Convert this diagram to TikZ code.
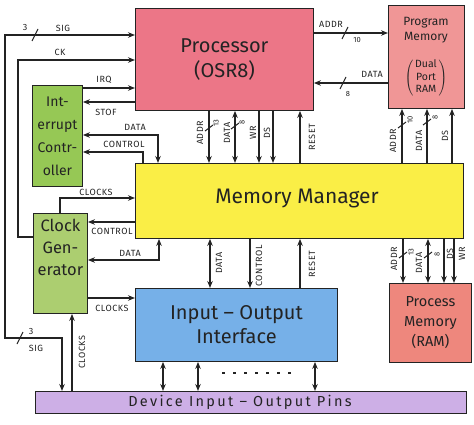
\documentclass[tikz,border=0pt]{standalone}
\usepackage{fontspec}
\setmainfont{Fira Sans}
\newfontfamily\lblf[LetterSpace=6]{Fira Sans}
\newfontfamily\devf[LetterSpace=16]{Fira Sans}
\usetikzlibrary{arrows.meta,calc}
\definecolor{procC}{RGB}{236,118,135}
\definecolor{pmC}{RGB}{240,150,150}
\definecolor{icC}{RGB}{150,200,85}
\definecolor{mmC}{RGB}{250,238,70}
\definecolor{cgC}{RGB}{172,206,112}
\definecolor{ioC}{RGB}{118,176,232}
\definecolor{prmC}{RGB}{238,135,125}
\definecolor{devC}{RGB}{205,175,230}
\definecolor{ink}{RGB}{35,35,35}
\begin{document}
\begin{tikzpicture}[x=1pt,y=-1pt,
  >={Stealth[length=7pt,width=5.5pt]},
  box/.style={draw=ink, line width=0.9pt, anchor=north west, inner sep=0pt, align=center, text=ink},
  wire/.style={line width=1.1pt, draw=ink},
  tick/.style={line width=1pt, draw=ink},
  lbl/.style={font=\lblf\fontsize{9}{10}\selectfont, inner sep=0.5pt, text=ink},
  rl/.style={lbl, rotate=90},
  sm/.style={font=\fontsize{7.5}{8}\selectfont, inner sep=0.5pt, text=ink}]
\useasboundingbox (0,0) rectangle (474,425);
\fill[white] (0,0) rectangle (474,425);

% boxes
\node[box, fill=procC, minimum width=178pt, minimum height=102pt, font=\fontsize{20}{25}\selectfont] (proc) at (135,8) {Processor\\(OSR8)};
\node[box, fill=pmC, minimum width=76pt, minimum height=103pt] (pm) at (388,5) {};
\node[font=\fontsize{12}{15}\selectfont, align=center, text=ink, inner sep=0pt] (pmt) at (426,30) {Program\\Memory};
\node[font=\fontsize{10.5}{12.5}\selectfont, align=center, text=ink, inner sep=0pt] (pmp) at (426,78)
  {$\left(\mbox{\,\begin{tabular}{@{}c@{}}Dual\\Port\\RAM\end{tabular}\,}\right)$};
\node[box, fill=icC, minimum width=50pt, minimum height=101pt, font=\fontsize{14}{23}\selectfont] (ic) at (32,85) {Int-\\errupt\\Contr-\\oller};
\node[box, fill=mmC, minimum width=328pt, minimum height=75pt] (mm) at (135,163) {};
\node[font=\fontsize{21}{24}\selectfont, text=ink] (mmt) at (297,199) {Memory Manager};
\node[box, fill=cgC, minimum width=54pt, minimum height=100pt, font=\fontsize{16.5}{22}\selectfont] (cg) at (33,213) {Clock\\Gen-\\erator\\[10pt]};
\node[box, fill=ioC, minimum width=202pt, minimum height=73pt, font=\fontsize{20}{24}\selectfont] (io) at (135,288) {Input -- Output\\Interface};
\node[box, fill=prmC, minimum width=82pt, minimum height=79pt, font=\fontsize{14.5}{20}\selectfont] (prm) at (389,283) {Process\\Memory\\(RAM)};
\node[box, fill=devC, minimum width=431pt, minimum height=22pt] (dev) at (35,391) {};
\node[font=\devf\fontsize{14.5}{16}\selectfont, text=ink] (devt) at (240,402) {Device Input \textendash\ Output Pins};

% helper coordinates
\coordinate (sigx) at (62,0);   \coordinate (sigy) at (0,338);
\coordinate (sigL) at (5,0);    \coordinate (sigT) at (0,35);
\coordinate (ckx) at (18,0);    \coordinate (cky) at (0,60);  \coordinate (ckb) at (0,237);
\coordinate (irq) at (0,88);    \coordinate (stof) at (0,102);
\coordinate (icd) at (0,135);   \coordinate (icdx) at (158,0);
\coordinate (icc) at (0,152);   \coordinate (iccx) at (143,0);
\coordinate (pa) at (209,0); \coordinate (pd) at (235,0); \coordinate (pw) at (259,0);
\coordinate (ps) at (273,0); \coordinate (pr) at (300,0);
\coordinate (pma) at (0,33); \coordinate (pmd) at (0,83);
\coordinate (qa) at (402,0); \coordinate (qd) at (427,0); \coordinate (qs) at (452,0);
\coordinate (clx) at (60,0); \coordinate (cly) at (0,198);
\coordinate (cgc) at (0,222);
\coordinate (cgd) at (0,260); \coordinate (cgdx) at (159,0);
\coordinate (cgk) at (0,298);
\coordinate (dkx) at (72,0);
\coordinate (md) at (210,0); \coordinate (mc) at (250,0); \coordinate (mr) at (300,0);
\coordinate (ra) at (403,0); \coordinate (rd) at (428,0); \coordinate (rs) at (444,0); \coordinate (rw) at (454,0);
\coordinate (e1) at (163,0); \coordinate (e2) at (198,0); \coordinate (e3) at (315,0);

% wires
\draw[wire,<->] (dev.north -| sigx) -- (sigx |- sigy) -- (sigL |- sigy) -- (sigL |- sigT) -- (proc.west |- sigT);
\draw[wire,->] (cg.west |- ckb) -- (ckx |- ckb) -- (ckx |- cky) -- (proc.west |- cky);
\draw[wire,->] (ic.east |- irq) -- (proc.west |- irq);
\draw[wire,->] (proc.west |- stof) -- (ic.east |- stof);
\draw[wire,<->] (ic.east |- icd) -- (icdx |- icd) -- (mm.north -| icdx);
\draw[wire,<-] (ic.east |- icc) -- (iccx |- icc) -- (mm.north -| iccx);
\draw[wire,->] (proc.south -| pa) -- (mm.north -| pa);
\draw[wire,<->] (proc.south -| pd) -- (mm.north -| pd);
\draw[wire,->] (proc.south -| pw) -- (mm.north -| pw);
\draw[wire,->] (proc.south -| ps) -- (mm.north -| ps);
\draw[wire,<-] (proc.south -| pr) -- (mm.north -| pr);
\draw[wire,->] (proc.east |- pma) -- (pm.west |- pma);
\draw[wire,->] (pm.west |- pmd) -- (proc.east |- pmd);
\draw[wire,<-] (pm.south -| qa) -- (mm.north -| qa);
\draw[wire,<-] (pm.south -| qd) -- (mm.north -| qd);
\draw[wire,<-] (pm.south -| qs) -- (mm.north -| qs);
\draw[wire,->] (cg.north -| clx) -- (clx |- cly) -- (mm.west |- cly);
\draw[wire,->] (mm.west |- cgc) -- (cg.east |- cgc);
\draw[wire,<->] (cg.east |- cgd) -- (cgdx |- cgd) -- (mm.south -| cgdx);
\draw[wire,->] (cg.east |- cgk) -- (io.west |- cgk);
\draw[wire,->] (dev.north -| dkx) -- (cg.south -| dkx);
\draw[wire,<->] (mm.south -| md) -- (io.north -| md);
\draw[wire,->] (mm.south -| mc) -- (io.north -| mc);
\draw[wire,<-] (mm.south -| mr) -- (io.north -| mr);
\draw[wire,->] (mm.south -| ra) -- (prm.north -| ra);
\draw[wire,<->] (mm.south -| rd) -- (prm.north -| rd);
\draw[wire,->] (mm.south -| rs) -- (prm.north -| rs);
\draw[wire,->] (mm.south -| rw) -- (prm.north -| rw);
\draw[wire,<->] (io.south -| e1) -- (dev.north -| e1);
\draw[wire,<->] (io.south -| e2) -- (dev.north -| e2);
\draw[wire,<->] (io.south -| e3) -- (dev.north -| e3);
\draw[line width=1.3pt, draw=ink, dash pattern=on 3pt off 8pt] (222,373) -- (292,373);

% bus width ticks
\draw[tick] (32,41) -- (38,29);
\draw[tick] (17,344) -- (23,332);
\draw[tick] (205,131) -- (213,125);
\draw[tick] (231,129) -- (239,123);
\draw[tick] (342,39) -- (348,27);
\draw[tick] (340,89) -- (346,77);
\draw[tick] (398,128) -- (406,122);
\draw[tick] (423,125) -- (431,119);
\draw[tick] (399,258) -- (407,252);
\draw[tick] (424,258) -- (432,252);

% labels
\node[lbl] (t1) at (25,28) {3};
\node[lbl] (t2) at (63,28) {SIG};
\node[lbl] (t3) at (60,52) {CK};
\node[lbl] (t4) at (104,80) {IRQ};
\node[lbl] (t5) at (106,112) {STOF};
\node[lbl] (t6) at (135,127) {DATA};
\node[lbl] (t7) at (124,144) {CONTROL};
\node[rl] (t8) at (200,133) {ADDR};
\node[sm, rotate=90] (t9) at (216,123) {13};
\node[rl] (t10) at (227,133) {DATA};
\node[sm, rotate=90] (t11) at (242,122) {8};
\node[rl] (t12) at (253,133) {WR};
\node[rl] (t13) at (267,133) {DS};
\node[rl] (t14) at (312,137) {RESET};
\node[lbl] (t15) at (331,24) {ADDR};
\node[sm] (t16) at (357,40) {10};
\node[lbl] (t17) at (372,74) {DATA};
\node[sm] (t18) at (348,94) {8};
\node[rl] (t19) at (393,141) {ADDR};
\node[sm, rotate=90] (t20) at (410,120) {10};
\node[rl] (t21) at (419,141) {DATA};
\node[sm, rotate=90] (t22) at (435,117) {8};
\node[rl] (t23) at (445,136) {DS};
\node[lbl] (t24) at (96,192) {CLOCKS};
\node[lbl] (t25) at (112,231) {CONTROL};
\node[lbl] (t26) at (130,253) {DATA};
\node[lbl] (t27) at (112,308) {CLOCKS};
\node[rl] (t28) at (82,352) {CLOCKS};
\node[lbl] (t29) at (31,331) {3};
\node[lbl] (t30) at (36,348) {SIG};
\node[rl] (t31) at (219,263) {DATA};
\node[rl] (t32) at (259,266) {CONTROL};
\node[rl] (t33) at (312,264) {RESET};
\node[rl] (t34) at (394,259) {ADDR};
\node[sm, rotate=90] (t35) at (411,252) {13};
\node[rl] (t36) at (419,263) {DATA};
\node[sm, rotate=90] (t37) at (437,254) {8};
\node[rl] (t38) at (450,254) {DS};
\node[rl] (t39) at (462,254) {WR};
\end{tikzpicture}
\end{document}
